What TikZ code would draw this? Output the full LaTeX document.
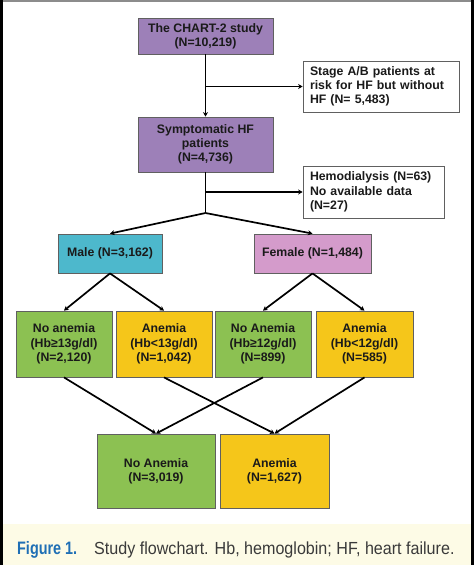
\documentclass[tikz,border=0pt]{standalone}
\usepackage{fontspec}
\setmainfont{Liberation Sans}
\newfontfamily\capfont[FakeStretch=0.92]{Liberation Sans}
\newfontfamily\figfont[FakeStretch=0.8]{Liberation Sans}
\usetikzlibrary{arrows.meta}
\definecolor{cpurple}{HTML}{9D80B8}
\definecolor{ccyan}{HTML}{4DB8CC}
\definecolor{cpink}{HTML}{D49BCB}
\definecolor{cgreen}{HTML}{8CC152}
\definecolor{cyellow}{HTML}{F5C61A}
\definecolor{ctext}{HTML}{1A1A1A}
\definecolor{cborder}{HTML}{606060}
\definecolor{capbg}{HTML}{FDFBE6}
\definecolor{figblue}{HTML}{1F6FB5}
\definecolor{capgray}{HTML}{3A3A3A}
\tikzset{
  box/.style={draw=cborder, line width=0.8pt, inner sep=0pt, text=ctext,
    font=\bfseries\fontsize{12.3}{14.2}\selectfont, align=center},
  wbox/.style={box, fill=white, align=left},
  arr/.style={line width=1.7pt, -{Stealth[length=4.5pt,width=5pt]}},
  plain/.style={line width=1.7pt},
}
\begin{document}
\begin{tikzpicture}[x=1pt,y=-1pt]
\useasboundingbox (0,0) rectangle (474,565);
\fill[white] (0,0) rectangle (474,565);
% caption band
\fill[capbg] (0,524) rectangle (474,565);
% frame
\fill[black!45] (0,0) rectangle (474,2);
\fill[black] (0,0) rectangle (3,565);
\fill[black] (471,0) rectangle (474,565);

% nodes
\node[box, fill=cpurple, minimum width=135pt, minimum height=36pt] (chart) at (205.5,36)
  {The CHART-2 study\\(N=10,219)};
\node[wbox, minimum width=156pt, minimum height=51pt, text width=142pt] (stage) at (381,86.5)
  {Stage A/B patients at\\risk for HF but without\\HF (N= 5,483)};
\node[box, fill=cpurple, minimum width=135pt, minimum height=55pt] (sympt) at (205.5,144.5)
  {Symptomatic HF\\patients\\(N=4,736)};
\node[wbox, minimum width=141pt, minimum height=52pt, text width=127pt] (hemo) at (373.5,192)
  {Hemodialysis (N=63)\\No available data\\(N=27)};
\node[box, fill=ccyan, minimum width=104pt, minimum height=39pt] (male) at (110,253.5)
  {Male (N=3,162)};
\node[box, fill=cpink, minimum width=117pt, minimum height=39pt] (female) at (312.5,253.5)
  {Female (N=1,484)};
\node[box, fill=cgreen, minimum width=96pt, minimum height=66pt] (nam) at (64,344)
  {No anemia\\(Hb≥13g/dl)\\(N=2,120)};
\node[box, fill=cyellow, minimum width=96pt, minimum height=66pt] (am) at (164,344)
  {Anemia\\(Hb<13g/dl)\\(N=1,042)};
\node[box, fill=cgreen, minimum width=96pt, minimum height=66pt] (naf) at (263,344)
  {No Anemia\\(Hb≥12g/dl)\\(N=899)};
\node[box, fill=cyellow, minimum width=97pt, minimum height=66pt] (af) at (364.5,344)
  {Anemia\\(Hb<12g/dl)\\(N=585)};
\node[box, fill=cgreen, minimum width=118pt, minimum height=74pt] (fna) at (156,471)
  {No Anemia\\(N=3,019)};
\node[box, fill=cyellow, minimum width=109pt, minimum height=74pt] (fa) at (274.5,471)
  {Anemia\\(N=1,627)};
\coordinate (fork) at (205.5,213);

% connectors
\draw[arr] (chart.south) -- (sympt.north);
\draw[arr] (chart.south |- stage.west) -- (stage.west);
\draw[plain] (sympt.south) -- (fork);
\draw[arr] (sympt.south |- hemo.west) -- (hemo.west);
\draw[arr] (fork) -- (male.north);
\draw[arr] (fork) -- (female.north);
\draw[arr] (male.south) -- (nam.north);
\draw[arr] (male.south) -- (am.north);
\draw[arr] (female.south) -- (naf.north);
\draw[arr] (female.south) -- (af.north);
\draw[arr] (nam.south) -- (fna.north);
\draw[arr] (naf.south) -- (fna.north);
\draw[arr] (am.south) -- (fa.north);
\draw[arr] (af.south) -- (fa.north);

% caption
\node[anchor=base west, inner sep=0pt, text=figblue, font=\figfont\bfseries\fontsize{18}{20}\selectfont] (figlab) at (17,554) {Figure 1.};
\node[anchor=base west, inner sep=0pt, text=capgray, font=\capfont\fontsize{17.5}{20}\selectfont] (captxt) at (94,554) {Study flowchart. Hb, hemoglobin; HF, heart failure.};
\end{tikzpicture}
\end{document}
